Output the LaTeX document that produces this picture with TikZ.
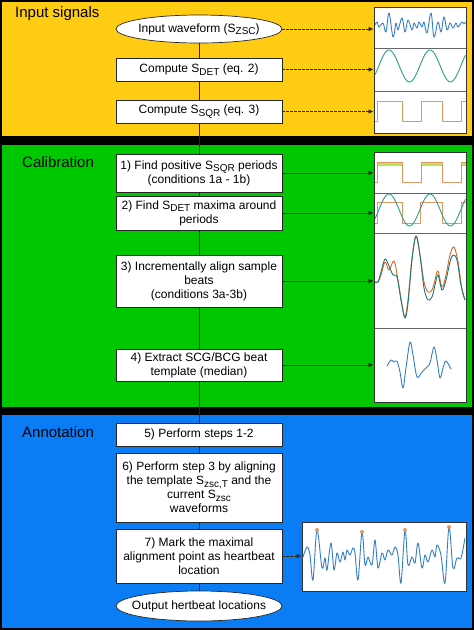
\documentclass[tikz,border=0pt]{standalone}
\usepackage{fontspec}
\setmainfont{Liberation Sans}
\usetikzlibrary{shapes.geometric,arrows.meta}
\definecolor{bgyellow}{RGB}{255,204,20}
\definecolor{bggreen}{RGB}{0,200,0}
\definecolor{bgblue}{RGB}{10,125,245}
\definecolor{sigblue}{RGB}{52,126,196}
\definecolor{sigteal}{RGB}{46,156,142}
\definecolor{sqorange}{RGB}{226,150,100}
\definecolor{dkorange}{RGB}{214,105,40}
\definecolor{dkteal}{RGB}{30,118,118}
\definecolor{hlgreen}{RGB}{184,230,86}
\newcommand\sbs[1]{\raisebox{-0.4ex}{\fontsize{10}{10}\selectfont #1}}
\begin{document}
\begin{tikzpicture}[x=1pt,y=-1pt,
  stepbox/.style={draw=black!85, fill=white, line width=0.7pt, minimum width=166pt, inner sep=1pt, align=center, font=\fontsize{12}{14}\selectfont},
  ovalbox/.style={stepbox, ellipse, inner sep=0pt},
  panel/.style={draw=black!60, fill=white, line width=0.7pt, inner sep=0pt},
  conn/.style={draw=black!85, line width=0.8pt},
  dasharrow/.style={draw=black!85, line width=0.8pt, dash pattern=on 2.5pt off 1.5pt, -{Latex[length=5pt,width=4.5pt]}},
  sectlabel/.style={anchor=west, font=\fontsize{15}{17}\selectfont, inner sep=0pt},
  wave/.style={line width=0.9pt, line join=round}
]
\useasboundingbox (0,0) rectangle (474,630);
% backgrounds
\fill[bgyellow] (0,0) rectangle (474,136);
\fill[black] (0,136) rectangle (474,145);
\fill[bggreen] (0,145) rectangle (474,407);
\fill[black] (0,407) rectangle (474,415);
\fill[bgblue] (0,415) rectangle (474,630);
\draw[black, line width=2pt] (1,1) rectangle (473,629);

% section labels
\node[sectlabel] (l1) at (15,14) {Input signals};
\node[sectlabel] (l2) at (22,162) {Calibration};
\node[sectlabel] (l3) at (22,432) {Annotation};

% steps
\node[ovalbox, minimum height=28pt] (in) at (199,29) {\makebox[0pt]{Input waveform (S\sbs{ZSC})}};
\node[stepbox, minimum height=23pt] (det) at (199,69.5) {Compute S\sbs{DET} (eq. 2)};
\node[stepbox, minimum height=23pt] (sqr) at (199,111.5) {Compute S\sbs{SQR} (eq. 3)};
\node[stepbox, minimum height=38pt] (c1) at (199,173) {1) Find positive S\sbs{SQR} periods\\(conditions 1a - 1b)};
\node[stepbox, minimum height=34pt] (c2) at (199,213) {2) Find S\sbs{DET} maxima around\\periods};
\node[stepbox, minimum height=52pt] (c3) at (199,281) {3) Incrementally align sample\\beats\\(conditions 3a-3b)};
\node[stepbox, minimum height=32pt] (c4) at (199,365) {4) Extract SCG/BCG beat\\template (median)};
\node[stepbox, minimum height=23pt] (a5) at (199,434.5) {5) Perform steps 1-2};
\node[stepbox, minimum height=69pt] (a6) at (199,487.5) {6) Perform step 3 by aligning\\the template S\sbs{zsc,T} and the\\current S\sbs{zsc}\\waveforms};
\node[stepbox, minimum height=54pt] (a7) at (199,556) {7) Mark the maximal\\alignment point as heartbeat\\location};
\node[ovalbox, minimum height=30pt] (out) at (199,606) {\makebox[0pt]{Output hertbeat locations}};

% vertical connectors
\draw[conn] (in) -- (det);
\draw[conn] (det) -- (sqr);
\draw[conn] (sqr) -- (c1);
\draw[conn] (c1) -- (c2);
\draw[conn] (c2) -- (c3);
\draw[conn] (c3) -- (c4);
\draw[conn] (c4) -- (a5);
\draw[conn] (a5) -- (a6);
\draw[conn] (a6) -- (a7);
\draw[conn] (a7) -- (out);

% plot panels
\node[panel, minimum width=92pt, minimum height=41pt] (p1) at (420,27.5) {};
\node[panel, minimum width=92pt, minimum height=43pt] (p2) at (420,69.5) {};
\node[panel, minimum width=92pt, minimum height=42pt] (p3) at (420,112) {};
\draw[black!80, line width=0.8pt] (374,7) rectangle (466,133);
\node[panel, minimum width=92pt, minimum height=41pt] (q1) at (420,172.5) {};
\node[panel, minimum width=92pt, minimum height=40pt] (q2) at (420,213) {};
\node[panel, minimum width=92pt, minimum height=95pt] (q3) at (420,280.5) {};
\node[panel, minimum width=92pt, minimum height=74pt] (q4) at (420,365) {};
\draw[black!80, line width=0.8pt] (374,152) rectangle (466,402);
\node[panel, draw=black!80, minimum width=164pt, minimum height=69pt] (r1) at (384,556.5) {};

% dashed arrows
\draw[dasharrow] (in.east) -- (in.east -| p1.west);
\draw[dasharrow] (det.east) -- (det.east -| p2.west);
\draw[dasharrow] (sqr.east) -- (sqr.east -| p3.west);
\draw[dasharrow] (c1.east) -- (c1.east -| q1.west);
\draw[dasharrow] (c2.east) -- (c2.east -| q2.west);
\draw[dasharrow] (c3.east) -- (c3.east -| q3.west);
\draw[dasharrow] (c4.east) -- (c4.east -| q4.west);
\draw[dasharrow] (a7.east) -- (a7.east -| r1.west);

% waveforms: input
\draw[wave, sigblue] plot[smooth, tension=0.6] coordinates {(375,25) (377,22) (379,27) (383,23) (386,32) (389,13) (393,37) (396,23) (398,30) (402,18) (405,32) (408,20) (412,30) (414,23) (417,28) (419,22) (422,27) (424,22) (427,33) (431,13) (434,37) (438,22) (441,32) (444,17) (447,30) (450,23) (453,28) (456,23) (458,27) (462,22) (464,24) (465.5,22)};
\draw[wave, sigteal] plot[domain=375:465.5, samples=120] (\x, {66-16*cos(8.78049*(\x-389))});
\draw[wave, sqorange] (375,121) -- (377,121) -- (377,101) -- (402,101) -- (402,121) -- (421,121) -- (421,101) -- (442,101) -- (442,121) -- (461,121) -- (461,101) -- (465.5,101);

% calibration 1
\draw[hlgreen, line width=2.6pt] (377,164.2) -- (402,164.2) (421,164.2) -- (442,164.2) (461,164.2) -- (465.5,164.2);
\draw[wave, sqorange] (375,182) -- (377,182) -- (377,162) -- (402,162) -- (402,182) -- (421,182) -- (421,162) -- (442,162) -- (442,182) -- (461,182) -- (461,162) -- (465.5,162);
% calibration 2
\draw[wave, sqorange] (375,223) -- (377,223) -- (377,202) -- (402,202) -- (402,223) -- (420,223) -- (420,202) -- (442,202) -- (442,223) -- (461,223) -- (461,202) -- (465.5,202);
\draw[wave, sigteal] plot[domain=375:465.5, samples=120] (\x, {210-16*cos(8.78049*(\x-389))});
% calibration 3
\draw[wave, dkorange] plot[smooth, tension=0.55] coordinates {(375,282) (378,282) (381,275) (385,262) (389,270) (394,261) (398,280) (402,305) (405,317) (408,300) (412,258) (416,236) (420,255) (424,282) (428,292) (432,290) (435,280) (438,271) (442,287) (446,275) (450,255) (454,247) (458,262) (462,290) (465,300)};
\draw[wave, dkteal] plot[smooth, tension=0.55] coordinates {(375,282) (378,282) (381,272) (385,259) (389,266) (393,275) (397,277) (401,300) (405,318) (408,303) (412,260) (416,236) (420,255) (424,288) (428,300) (432,297) (435,285) (438,275) (442,290) (446,280) (450,262) (453,255) (457,260) (461,285) (465,300)};
% calibration 4
\draw[wave, sigblue] plot[smooth, tension=0.55] coordinates {(387,366) (391,360) (394,362) (397,361) (400,372) (403,388) (406,368) (410,342) (413,355) (417,377) (422,372) (427,367) (430,363) (434,347) (437,360) (440,378) (443,368) (446,361) (451,369)};
% annotation
\draw[wave, sigblue] plot[smooth, tension=0.55] coordinates {(303,557) (307,547) (310,555) (313,580) (317,530) (322,568) (325,558) (327,570) (331,543) (334,570) (337,553) (340,562) (343,552) (345,560) (347,550) (350,555) (353,548) (355,553) (358,580) (362,532) (365,565) (368,557) (372,565) (375,540) (378,568) (382,553) (385,560) (388,550) (392,555) (395,547) (398,555) (401,583) (405,530) (408,565) (412,557) (415,563) (418,543) (422,568) (425,555) (428,562) (432,550) (435,557) (437,545) (441,555) (445,583) (449,527) (453,568) (457,558) (461,558) (465,538)};
\fill[sqorange] (317,530) circle (2pt) (362,532) circle (2pt) (405,530) circle (2pt) (449,527) circle (2pt);
\end{tikzpicture}
\end{document}
